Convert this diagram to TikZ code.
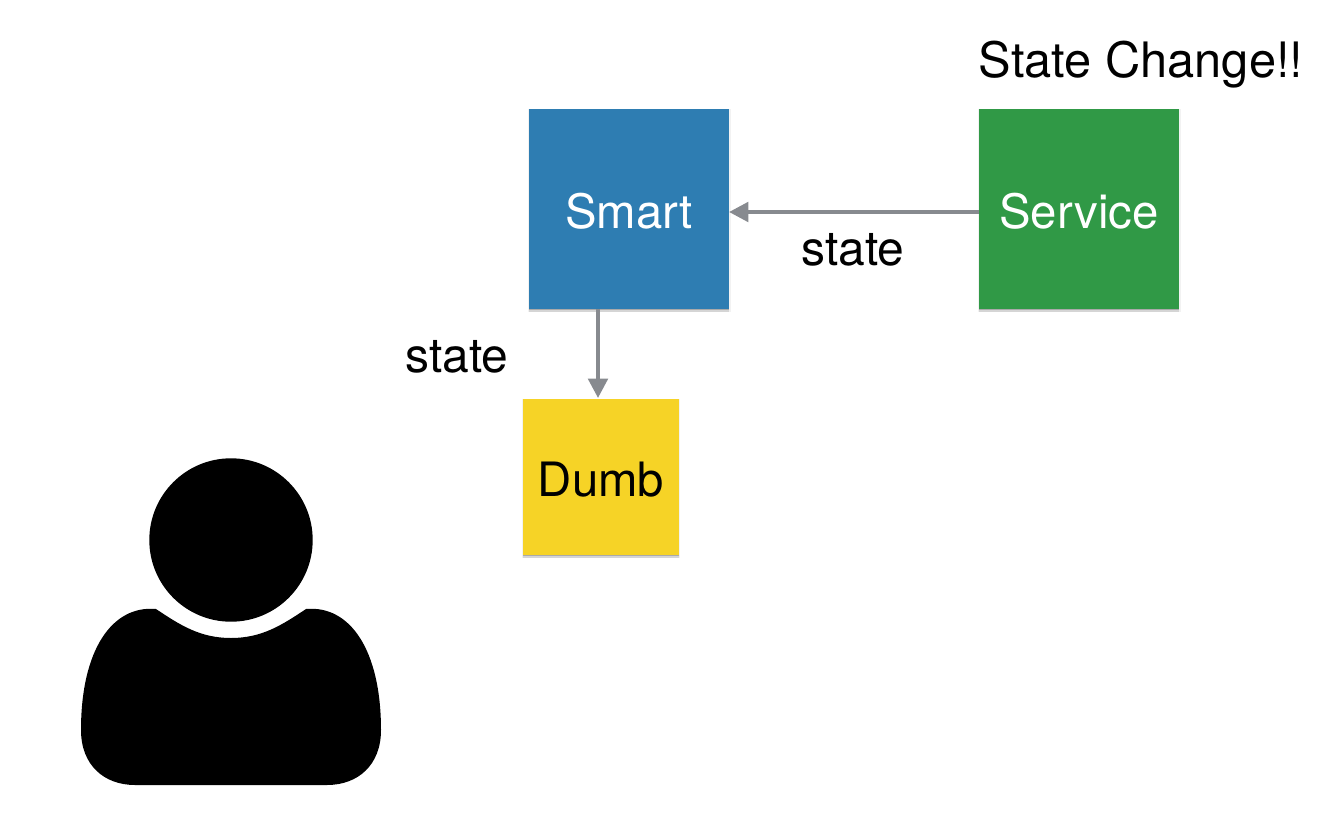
\documentclass[tikz,border=0pt]{standalone}
\usepackage{fontspec}
\setmainfont{TeX Gyre Heros}
\usetikzlibrary{arrows.meta,shadows}

\definecolor{smartblue}{RGB}{46,125,178}
\definecolor{servicegreen}{RGB}{48,153,70}
\definecolor{dumbyellow}{RGB}{246,211,38}
\definecolor{flowgray}{RGB}{135,138,143}

\tikzset{
  note/.style={inner sep=0pt,font=\fontsize{36}{43}\selectfont,text=black},
  card/.style={inner sep=0pt,minimum width=#1,minimum height=#1,text height=28.5pt,text depth=0pt,
    font=\fontsize{35.5}{42}\selectfont,
    general shadow={fill=black,opacity=0.05,shadow xshift=0pt,shadow yshift=-1pt,shadow scale=1.015},
    general shadow={fill=black,opacity=0.12,shadow xshift=0pt,shadow yshift=-2pt},
    general shadow={fill=black,opacity=0.2,shadow xshift=0pt,shadow yshift=-1pt}},
  flow/.style={draw=flowgray,line width=3pt,-{Triangle[length=14.5pt,width=14.5pt]}}
}

\begin{document}
\begin{tikzpicture}[x=0.75pt,y=0.75pt,yscale=-1]
\useasboundingbox (0,0) rectangle (1328,814);

%Shape: Person
\fill [black] (231,540) circle [radius=81.7];
\fill [black] (156,609) .. controls (180,625) and (200,638) .. (231,638) .. controls (262,638) and (282,625) .. (306,609) .. controls (350,605) and (381,650) .. (381,730) .. controls (381,765) and (358,785) .. (327,785) -- (135,785) .. controls (104,785) and (81,765) .. (81,730) .. controls (81,650) and (112,605) .. (156,609) -- cycle;

%Shape: Cards
\draw (629,209) node (smart) [card=150pt,fill=smartblue,text=white] {Smart};
\draw (1079,209) node (service) [card=150pt,fill=servicegreen,text=white] {Service};
\draw (601,477) node (dumb) [card=117pt,fill=dumbyellow,text=black] {Dumb};

%Straight Lines
\coordinate (smartin) at (729,212);
\coordinate (dumbin) at (598,398);
\draw [flow] (service.west |- smartin) -- (smartin);
\draw [flow] (smart.south -| dumbin) -- (dumbin);

% Text Node
\draw (853,250) node (statea) [note] {state};
% Text Node
\draw (457,357) node (stateb) [note] {state};
% Text Node
\draw (1141,65) node (change) [note,font=\fontsize{36.6}{44}\selectfont] {State Change!!};
\end{tikzpicture}
\end{document}
